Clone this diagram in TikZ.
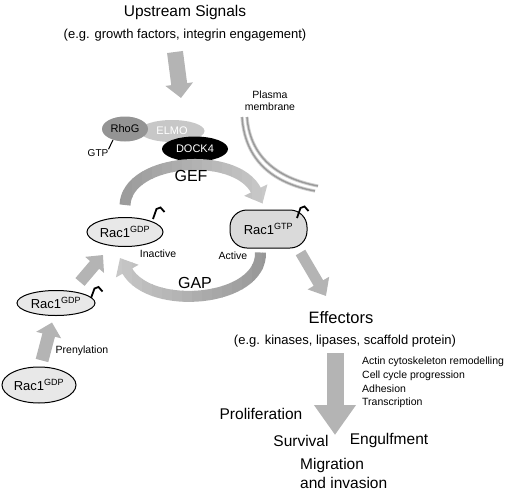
\documentclass[tikz,border=0pt]{standalone}
\usepackage{fontspec}
\setmainfont{Liberation Sans}
\usetikzlibrary{shapes.geometric,arrows.meta}
\definecolor{arrgray}{HTML}{B4B4B4}
\definecolor{memgray}{HTML}{9A9A9A}
\definecolor{gdpfill}{HTML}{E8E8E8}
\definecolor{gtpfill}{HTML}{DADADA}
\tikzset{
  bigtxt/.style={font=\fontsize{15.5}{19}\selectfont, inner sep=0pt},
  midtxt/.style={font=\fontsize{13}{16}\selectfont, inner sep=0pt},
  smalltxt/.style={font=\fontsize{10.5}{13.7}\selectfont, inner sep=0pt},
  racell/.style={ellipse, draw=black, line width=1pt, fill=gdpfill, inner sep=0pt, font=\fontsize{13}{15}\selectfont},
  protell/.style={ellipse, inner sep=0pt, font=\fontsize{11}{13}\selectfont},
  hook/.style={line width=1.8pt, line join=miter},
  arcarrow/.style={line width=11pt, -{Triangle[width=25pt,length=15pt]}},
}
\newcommand{\racsup}[1]{Rac1\textsuperscript{\fontsize{9}{10}\selectfont #1}}
\begin{document}
\begin{tikzpicture}[x=1pt,y=-1pt]
\useasboundingbox (0,0) rectangle (520,493);

% titles
\node[bigtxt] (title) at (185,12) {Upstream Signals};
\node[midtxt] (sub) at (185,35) {(e.g. growth factors, integrin engagement)};

% top arrow
\coordinate (ta1) at (175,52);
\coordinate (ta2) at (181,98);
\draw[arrgray, line width=16pt, -{Triangle[width=27pt,length=14pt]}] (ta1) -- (ta2);

% membrane
\node[smalltxt, align=center, font=\fontsize{10.5}{12}\selectfont] (plasma) at (270,101) {Plasma\\membrane};
\coordinate (m1a) at (242,117);
\coordinate (m1b) at (315,191);
\coordinate (m2a) at (247,117);
\coordinate (m2b) at (318,186);
\draw[black!18, line width=3.2pt] (m1a) .. controls (245,160) and (272,183) .. (m1b);
\draw[black!18, line width=3.2pt] (m2a) .. controls (250,156) and (276,178) .. (m2b);
\draw[memgray, line width=1.4pt] (m1a) .. controls (245,160) and (272,183) .. (m1b);
\draw[memgray, line width=1.4pt] (m2a) .. controls (250,156) and (276,178) .. (m2b);

% GEF complex
\node[protell, fill=black!22, text=white, minimum width=65pt, minimum height=22pt] (elmo) at (172,131) {ELMO};
\node[protell, fill=black!42, minimum width=46pt, minimum height=25pt] (rhog) at (125,129) {RhoG};
\node[protell, fill=black, text=white, minimum width=66pt, minimum height=25pt] (dock) at (195,149) {DOCK4};
\node[smalltxt, font=\fontsize{10}{12}\selectfont] (gtp) at (98,153) {GTP};
\draw[line width=1pt] (113,140) -- (gtp.north east);

% Rac1 nodes
\node[racell, minimum width=76pt, minimum height=29pt] (gdpL) at (125,232) {\racsup{GDP}};
\node[draw=black, line width=1pt, fill=gtpfill, rounded corners=17pt, minimum width=77pt, minimum height=38pt, inner sep=0pt, font=\fontsize{13}{15}\selectfont] (gtpR) at (268.5,229) {\racsup{GTP}};
\node[racell, minimum width=78pt, minimum height=25pt] (gdpM) at (56,303) {\racsup{GDP}};
\node[racell, minimum width=74pt, minimum height=36pt] (gdpB) at (39,385) {\racsup{GDP}};

% lipid hooks
\draw[hook] (153,219) -- (156.5,209) -- (160.5,207.5) -- (164.5,212);
\draw[hook] (297,218) -- (300.5,208) -- (304.5,206.5) -- (308.5,211);
\draw[hook] (91,298) -- (94.5,288.5) -- (98.5,287) -- (102.5,291.5);

% GEF / GAP arcs (gradient imitated with strips)
\coordinate (gefS) at ([yshift=12pt]gdpL.north);
\coordinate (gefE) at ([xshift=-6pt,yshift=6pt]gtpR.north);
\coordinate (gapS) at ([xshift=-8pt,yshift=-4pt]gtpR.south);
\coordinate (gapE) at ([xshift=-5pt,yshift=-11pt]gdpL.south);
\foreach \i in {0,...,16}{
  \pgfmathsetmacro{\xa}{112+10*\i}
  \pgfmathsetmacro{\pc}{40-20*\i/16}
  \pgfmathsetmacro{\pd}{22+20*\i/16}
  \begin{scope}
    \clip (\xa,140) rectangle (\xa+10.6,222);
    \draw[black!\pc, arcarrow] (gefS) .. controls (127,158) and (236,150) .. (gefE);
  \end{scope}
  \begin{scope}
    \clip (\xa,246) rectangle (\xa+10.6,310);
    \draw[black!\pd, arcarrow] (gapS) .. controls (262,302) and (150,312) .. (gapE);
  \end{scope}
}
\node[bigtxt, font=\fontsize{16}{19}\selectfont] (gef) at (191,176) {GEF};
\node[bigtxt, font=\fontsize{16}{19}\selectfont] (gap) at (195,283) {GAP};

\node[smalltxt] (inact) at (158,254) {Inactive};
\node[smalltxt] (act) at (233,256) {Active};

% lower left arrows
\draw[arrgray, line width=12pt, -{Triangle[width=24pt,length=13pt]}] ([xshift=24pt,yshift=8pt]gdpM.north) -- ([xshift=-22pt,yshift=-8pt]gdpL.south);
\draw[arrgray, line width=13pt, -{Triangle[width=25pt,length=13pt]}] ([xshift=3pt,yshift=6pt]gdpB.north) -- ([xshift=-4pt,yshift=-6.5pt]gdpM.south);
\node[smalltxt] (pren) at (82,351) {Prenylation};

% effectors
\draw[arrgray, line width=11pt, -{Triangle[width=24pt,length=15pt]}] ([xshift=32pt,yshift=-4pt]gtpR.south) -- (326,296);
\node[bigtxt, font=\fontsize{16.5}{19}\selectfont] (eff) at (341,318) {Effectors};
\node[midtxt] (kin) at (345,341) {(e.g. kinases, lipases, scaffold protein)};

\coordinate (ba1) at (335,353);
\coordinate (ba2) at (335,435);
\draw[arrgray, line width=17pt, -{Triangle[width=40pt,length=30pt]}] (ba1) -- (ba2);

\node[smalltxt, align=left, anchor=west] (list) at (362,382.5) {Actin cytoskeleton remodelling\\Cell cycle progression\\Adhesion\\Transcription};

\node[bigtxt] (prol) at (261,414) {Proliferation};
\node[bigtxt] (surv) at (301,441) {Survival};
\node[bigtxt] (eng) at (389,440) {Engulfment};
\node[bigtxt, align=left, anchor=west] (mig) at (300,473) {Migration\\and invasion};
\end{tikzpicture}
\end{document}
